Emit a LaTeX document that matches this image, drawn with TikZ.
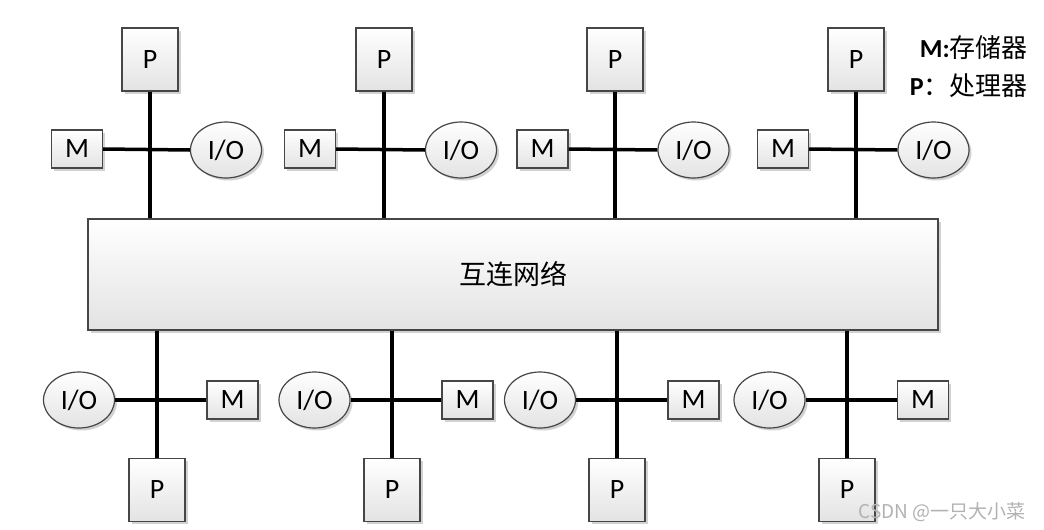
\documentclass[tikz,border=0pt]{standalone}
\usepackage{fontspec}
\setmainfont{Carlito}
\newfontfamily\cjk{Noto Sans CJK SC}
\usetikzlibrary{shapes.geometric,shadows}
\begin{document}
\begin{tikzpicture}[x=1pt,y=-1pt,
  box/.style={draw=gray!55!black, line width=1.2pt, top color=white, bottom color=gray!22,
    drop shadow={shadow xshift=2.5pt,shadow yshift=-2.5pt,opacity=0.35},
    inner sep=0pt, font=\fontsize{28}{32}\selectfont},
  pbox/.style={box, minimum width=56pt, minimum height=63pt},
  mbox/.style={box, minimum width=51pt, minimum height=38pt},
  iobox/.style={box, ellipse, minimum width=71pt, minimum height=56pt},
  link/.style={line width=3.5pt, black},
  legend/.style={anchor=east, inner sep=0pt, font=\fontsize{26}{30}\selectfont}]
\fill[white] (0,0) rectangle (1044,530);
\useasboundingbox (0,0) rectangle (1044,530);

% interconnection network
\node[box, minimum width=850pt, minimum height=111pt, font=\cjk\fontsize{27}{30}\selectfont] (net) at (513,274.5) {互连网络};

% top groups
\foreach \i/\lx/\mx/\iox in {1/150/77/226, 2/384/310/461, 3/615/542.5/693.5, 4/856/783/933.5}{
  \node[pbox] (tP\i) at (\lx,59.5) {P};
  \node[mbox] (tM\i) at (\mx,149) {M};
  \node[iobox] (tIO\i) at (\iox,150) {I/O};
  \draw[link] (tP\i.south) -- (tP\i.south |- net.north);
  \draw[link] (tM\i.east) -- (tIO\i.west);
}

% bottom groups
\foreach \i/\lx/\iox/\mx in {1/157/79/232.5, 2/392/314.5/467.5, 3/617/540/693.5, 4/847/769.5/923}{
  \node[pbox] (bP\i) at (\lx,490) {P};
  \node[mbox] (bM\i) at (\mx,400) {M};
  \node[iobox] (bIO\i) at (\iox,400) {I/O};
  \draw[link] (bP\i.north) -- (bP\i.north |- net.south);
  \draw[link] (bIO\i.east) -- (bM\i.west);
}

% legend
\node[legend] (legM) at (1028,48) {\textbf{M:}{\cjk 存储器}};
\node[legend] (legP) at (1028,86) {\textbf{P}{\cjk ：}{\cjk 处理器}};

% watermark
\node[font=\cjk\fontsize{19}{22}\selectfont, text=gray!60, inner sep=0pt] (wm) at (942,512) {CSDN @一只大小菜};
\end{tikzpicture}
\end{document}
